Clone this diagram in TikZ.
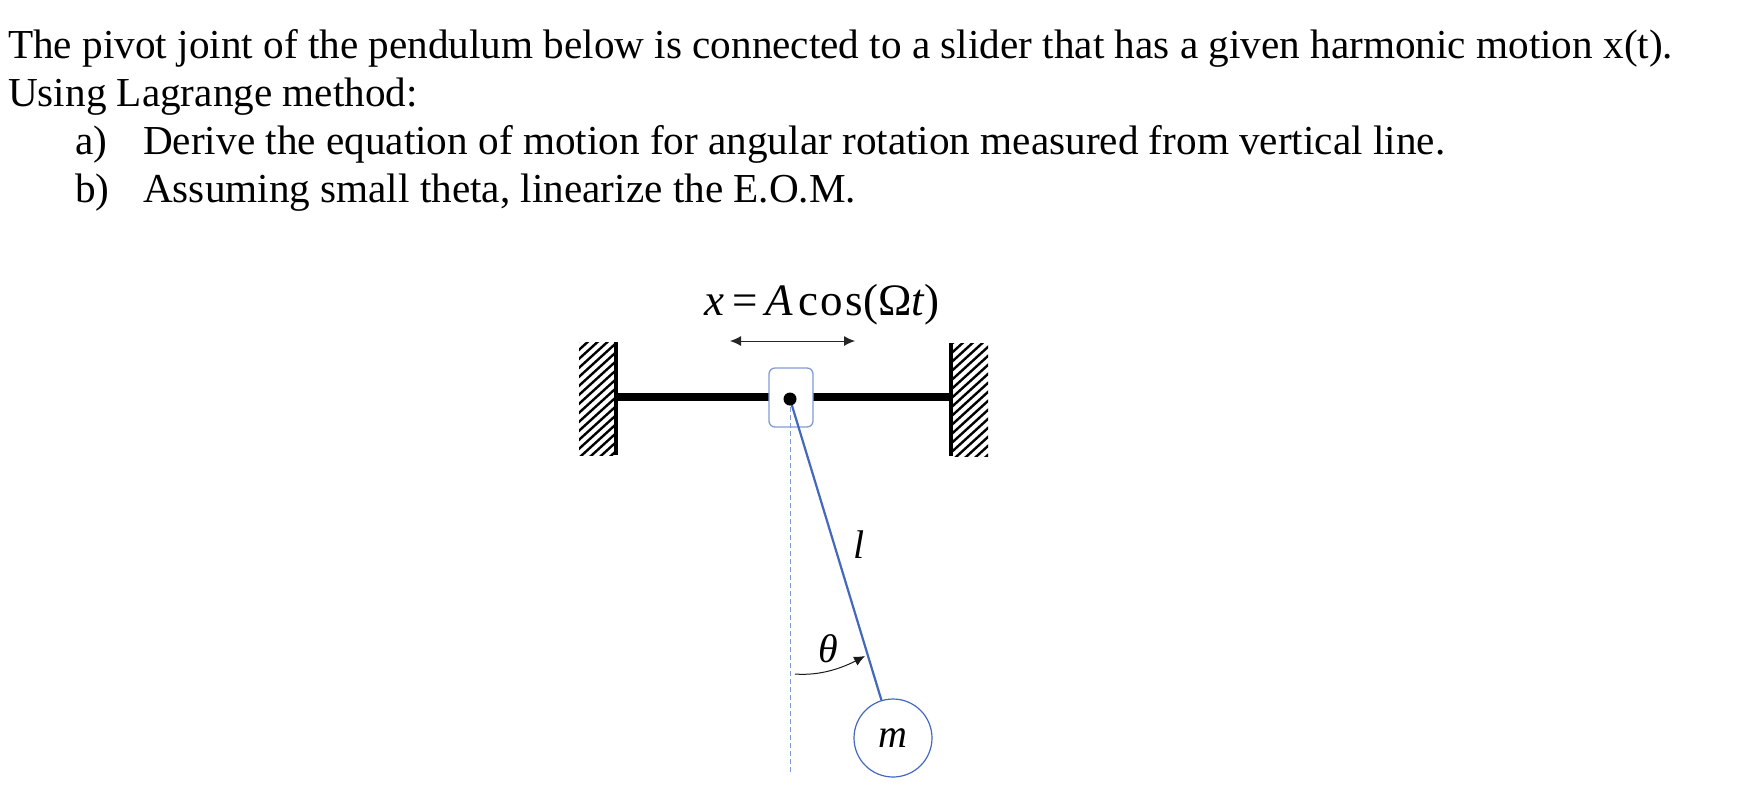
\documentclass[tikz,border=0pt]{standalone}
\usepackage{fontspec}
\setmainfont{Liberation Serif}
\usetikzlibrary{arrows.meta}
\definecolor{pblue}{RGB}{68,104,190}
\definecolor{lblue}{RGB}{130,155,215}
\tikzset{
  txt/.style={anchor=base west,inner sep=0pt,font=\fontsize{41.2}{41.2}\selectfont},
  sym/.style={inner sep=0pt,font=\fontsize{40}{40}\selectfont\itshape},
  wallline/.style={line width=4pt,black},
  hatchline/.style={line width=2.4pt,black},
  tip/.style={-{Latex[length=11pt,width=10pt]}},
}
\begin{document}
\begin{tikzpicture}[x=1pt,y=-1pt]
\useasboundingbox (0,0) rectangle (1737,807);
\node[txt] (l1) at (8,58) {The pivot joint of the pendulum below is connected to a slider that has a given harmonic motion x(t).};
\node[txt] (l2) at (8,106) {Using Lagrange method:};
\node[txt] (l3a) at (75,154) {a)};
\node[txt] (l3) at (143,154) {Derive the equation of motion for angular rotation measured from vertical line.};
\node[txt] (l4a) at (75,202) {b)};
\node[txt] (l4) at (143,202) {Assuming small theta, linearize the E.O.M.};
% hatching
\begin{scope}
\clip (579,342) rectangle (615,455);
\foreach \k in {0,9,...,170} \draw[hatchline] (570,340+\k) -- (625,340+\k-50);
\end{scope}
\begin{scope}
\clip (951,343) rectangle (988,456);
\foreach \k in {0,9,...,170} \draw[hatchline] (945,341+\k) -- (1000,341+\k-50);
\end{scope}
\coordinate (wl) at (616,397);
\coordinate (wr) at (951,397);
\draw[wallline] (616,342) -- (616,455);
\draw[wallline] (951,343) -- (951,456);
\draw[line width=7.5pt] (wl) -- (wr);
% motion label
\node[inner sep=0pt,anchor=base,font=\fontsize{45}{45}\selectfont] (xlab) at (822,315) {\textit{x}\kern8pt=\kern8pt\textit{A}\kern5pt c\kern2.5pt o\kern2.5pt s(Ω\textit{t})};
\coordinate (al) at (730,341);
\coordinate (ar) at (855,341);
\draw[{Latex[length=11pt,width=10pt]}-{Latex[length=11pt,width=10pt]},line width=1pt,black!85] (al) -- (ar);
% slider
\node[draw=lblue,fill=white,line width=1.3pt,rounded corners=6pt,minimum width=44pt,minimum height=59pt,inner sep=0pt] (slider) at (791,397.5) {};
\coordinate (pv) at (790,399);
\coordinate (bot) at (790,772);
\draw[lblue,line width=1pt,dash pattern=on 5pt off 3pt] (pv) -- (bot);
% mass
\node[draw=pblue,fill=white,circle,line width=1.2pt,minimum size=78pt,inner sep=0pt,font=\fontsize{40}{40}\selectfont\itshape] (mass) at (893,738) {m};
\draw[pblue,line width=2.2pt] (pv) -- (mass.107);
\fill[black] (pv) circle (6.5pt);
\node[sym] (len) at (859,545) {l};
\node[sym] (th) at (828,649) {θ};
\coordinate (c1) at (795,674);
\coordinate (c2) at (865,656);
\draw[tip,line width=1pt,black!90] (c1) .. controls (820,676) and (842,668) .. (c2);
\end{tikzpicture}
\end{document}
